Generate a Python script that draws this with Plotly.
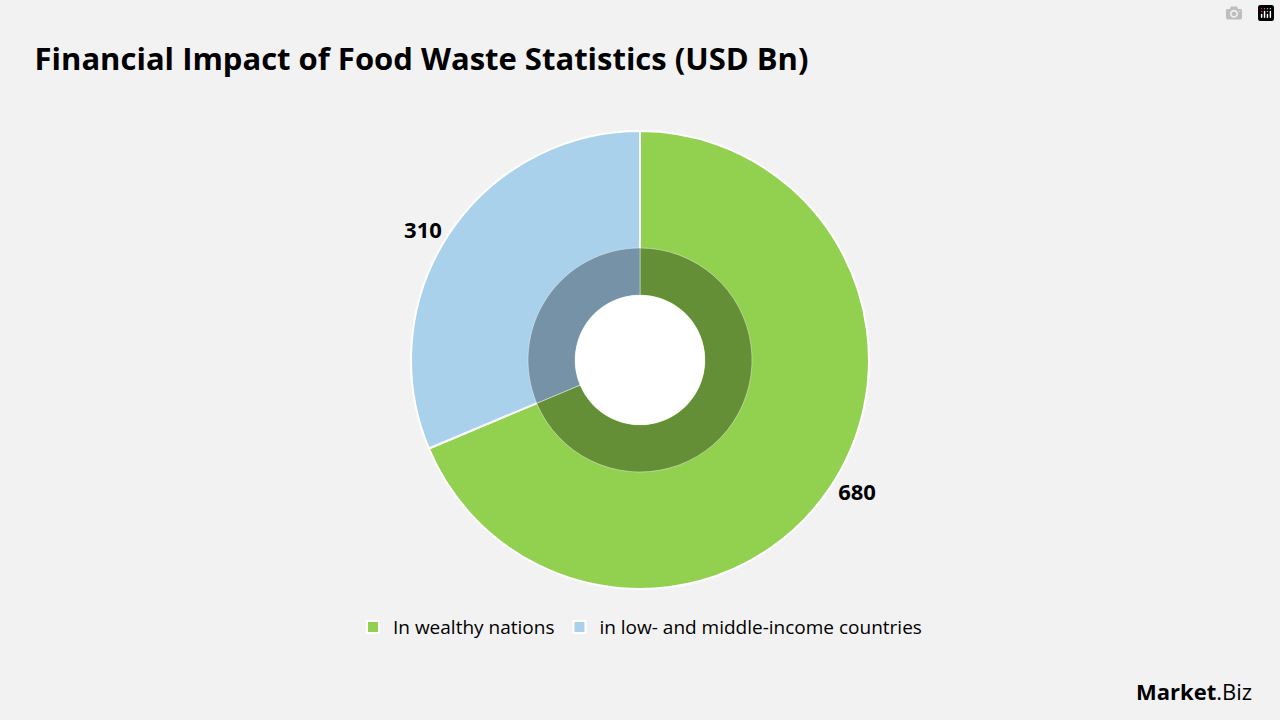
import plotly.graph_objects as go

labels = ["In wealthy nations", "in low- and middle-income countries"]
values = [680, 310]
outer_colors = ["#92D050", "#A9D1EC"]
inner_colors = ["#658F36", "#7692A6"]

fig = go.Figure()
fig.add_trace(go.Pie(
    labels=labels, values=values, sort=False, direction="clockwise", rotation=0,
    marker=dict(colors=outer_colors, line=dict(color="white", width=2)),
    texttemplate="<b>%{value}</b>", textposition="outside",
    textfont=dict(size=22, color="black", family="Open Sans"),
    domain=dict(x=[0.321, 0.679], y=[0.182, 0.818]), hoverinfo="label+value"))
fig.add_trace(go.Pie(
    labels=labels, values=values, sort=False, direction="clockwise", rotation=0,
    hole=0.58, showlegend=False,
    marker=dict(colors=inner_colors, line=dict(color="rgba(255,255,255,0.4)", width=1)),
    textinfo="none",
    domain=dict(x=[0.4125, 0.5875], y=[0.3444, 0.6556])))

fig.update_layout(
    width=1280, height=720, margin=dict(l=0, r=0, t=0, b=0),
    paper_bgcolor="#F2F2F2", plot_bgcolor="#F2F2F2",
    title=dict(text="<b>Financial Impact of Food Waste Statistics (USD Bn)</b>",
               x=0.027, xanchor="left", y=0.918, yanchor="middle",
               font=dict(size=31, color="black", family="Open Sans")),
    legend=dict(orientation="h", x=0.5, xanchor="center", y=0.129, yanchor="middle",
                font=dict(size=19, color="black", family="Open Sans"), itemsizing="constant"),
    shapes=[dict(type="circle", xref="paper", yref="paper", layer="above",
                 x0=575/1280, x1=705/1280, y0=(360-65)/720, y1=(360+65)/720,
                 fillcolor="white", line=dict(width=0))],
    annotations=[dict(text="<b>Market</b>.Biz", x=0.98, y=0.04, xref="paper", yref="paper",
                      xanchor="right", yanchor="middle", showarrow=False,
                      font=dict(size=22, color="black", family="Open Sans"))])
fig.for_each_trace(lambda t: None)
for tr in fig.data:
    pass
fig.update_layout(legend_font=dict(size=19))
fig.data[0].legendgroup = None
fig.write_html("out.html", post_script="document.body.style.margin='0';")
